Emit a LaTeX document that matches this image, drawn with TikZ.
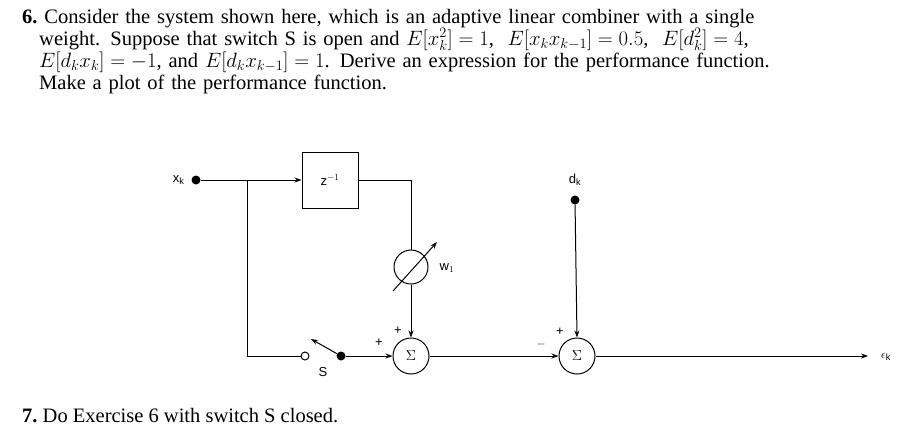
\documentclass[tikz,border=0pt]{standalone}
\usepackage{fontspec}
\setmainfont{Liberation Serif}
\setsansfont{Liberation Sans}
\usetikzlibrary{arrows.meta}
\begin{document}
\begin{tikzpicture}[x=1pt,y=-1pt,
  wire/.style={line width=1pt},
  arr/.style={wire,-{Stealth[length=7pt,width=5pt]}},
  sumc/.style={circle,draw,line width=1pt,minimum size=36pt,inner sep=0pt,font=\fontsize{15}{16}\selectfont},
  lab/.style={font=\sffamily\fontsize{13}{14}\selectfont},
  dotf/.style={circle,fill,inner sep=0pt,minimum size=9pt}]
\useasboundingbox (0,0) rectangle (900,440);
\node[anchor=north west,text width=820pt,align=left,inner sep=0pt,font=\fontsize{20.5}{22}\selectfont] (t6) at (22,9)
{\textbf{6.}\ Consider the system shown here, which is an adaptive linear combiner with a single\\
\hspace*{17pt}weight. Suppose that switch S is open and $E[x_k^2]=1$,\ \ $E[x_kx_{k-1}]=0.5$,\ \ $E[d_k^2]=4$,\\
\hspace*{17pt}$E[d_kx_k]=-1$, and $E[d_kx_{k-1}]=1$. Derive an expression for the performance function.\\
\hspace*{17pt}Make a plot of the performance function.};
\node[anchor=west,inner sep=0pt,font=\fontsize{20.5}{22}\selectfont] (t7) at (22,416) {\textbf{7.}\ Do Exercise 6 with switch S closed.};

\node[dotf] (xk) at (196,180) {};
\node[lab,anchor=east] (xl) at (188,180) {x$_\mathsf{k}$};
\coordinate (j) at (247,180);
\node[draw,line width=1pt,minimum width=56pt,minimum height=56pt,lab] (z) at (330,180) {z$^{-1}$};
\coordinate (zr) at (411,180);
\node[circle,draw,line width=1pt,minimum size=34pt,inner sep=0pt] (w) at (411,267) {};
\draw[wire,-{Stealth[length=7pt,width=5pt]}] (393,291) -- (437,242);
\node[lab] (wl) at (447,268) {w$_1$};
\node[sumc] (s1) at (411,356) {$\Sigma$};
\node[sumc] (s2) at (577,356) {$\Sigma$};
\node[dotf] (dk) at (575,200) {};
\node[lab] (dl) at (575,180) {d$_\mathsf{k}$};
\coordinate (jb) at (247,356);
\node[circle,draw,line width=1pt,minimum size=8pt,inner sep=0pt] (oc) at (305,356) {};
\node[dotf] (sc) at (341,356) {};
\node[lab] (sl) at (323,372) {S};
\coordinate (out) at (868,356);
\node[lab] (el) at (886,357) {$\epsilon_\mathsf{k}$};

\draw[arr] (xk) -- (z.west);
\draw[wire] (j) -- (jb) -- (oc.west);
\draw[wire] (z.east) -- (zr) -- (w.north);
\draw[arr] (w.south) -- (s1.north);
\draw[wire,-{Stealth[length=7pt,width=5pt]}] (sc) -- (311,339);
\draw[arr] (sc) -- (s1.west);
\draw[arr] (s1.east) -- (s2.west);
\draw[arr] (dk) -- (s2.north);
\draw[arr] (s2.east) -- (out);
\node[lab] (p1) at (379,343) {+};
\node[lab] (p2) at (398,331) {+};
\node[lab] (m1) at (541,344) {$-$};
\node[lab] (p3) at (560,332) {+};
\end{tikzpicture}
\end{document}
